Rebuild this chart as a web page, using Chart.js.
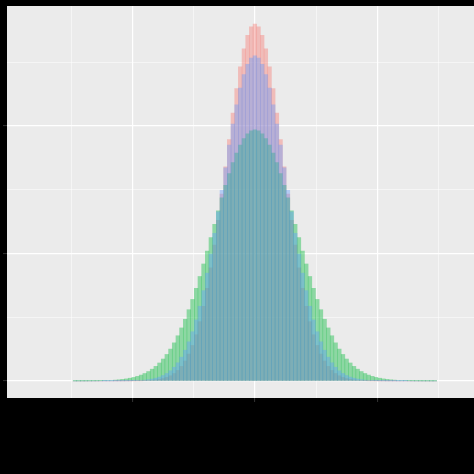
<!DOCTYPE html>
<html><head><script src="https://cdn.jsdelivr.net/npm/chart.js@4"></script>
<style>html,body{margin:0;background:#000}#w{width:474px;height:474px}</style></head>
<body><div id="w"><canvas id="c"></canvas></div>
<script>
const binWidth = 0.12;
const binCount = 99;
const redHalf = [56000,55550,54240,52120,49290,45870,42030,37890,33600,29340,25210,21330,17750,14540,11720,9300,7260,5580,4220,3140,2300,1660,1180,823,566,383,255,167,108,68,43,26,16,9,5,3,2,1,1,0,0,0,0,0,0,0,0,0,0,0];
const blueHalf = [51000,50670,49690,48090,45940,43310,40300,37030,33440,29920,26550,23180,19910,16920,14180,11730,9580,7730,6150,4830,3740,2860,2160,1610,1185,860,617,437,305,210,143,96,63,42,27,17,11,7,4,2,1,1,0,0,0,0,0,0,0,0];
const greenHalf = [39400,39250,38790,38040,37020,35750,34250,32560,30700,28730,26690,24590,22490,20400,18360,16400,14540,12800,11190,9690,8330,7100,5990,5010,4170,3450,2830,2300,1860,1490,1180,935,730,567,439,335,254,191,143,106,78,57,41,29,21,15,10,7,5,3];
const seriesNames = ['A','B','C'];

function full(h){ return h.slice(1).reverse().concat(h); }
function pts(h){ const v = full(h); return v.map((y,i)=>({x:(i-(binCount-1)/2)*binWidth, y})); }

const bg = {id:'bg', beforeDraw(ch){const c=ch.ctx,a=ch.chartArea;c.save();c.fillStyle='#000';c.fillRect(0,0,ch.width,ch.height);c.fillStyle='#EBEBEB';c.fillRect(a.left,a.top,a.right-a.left,a.bottom-a.top);c.restore();}};

new Chart(document.getElementById('c'),{
 type:'bar',
 data:{datasets:[
  {label:seriesNames[0],data:pts(redHalf),backgroundColor:'rgba(248,118,109,0.4)',order:3},
  {label:seriesNames[1],data:pts(greenHalf),backgroundColor:'rgba(0,186,56,0.4)',order:2},
  {label:seriesNames[2],data:pts(blueHalf),backgroundColor:'rgba(97,156,255,0.4)',order:1}
 ]},
 options:{
  animation:false,responsive:true,maintainAspectRatio:false,
  layout:{padding:{top:6,right:0,left:0,bottom:0}},
  plugins:{legend:{display:false},tooltip:{enabled:false}},
  datasets:{bar:{barPercentage:1,categoryPercentage:1,grouped:false,borderWidth:0,inflateAmount:0.3}},
  scales:{
   x:{type:'linear',min:-8.1,max:7.16,offset:false,
      afterBuildTicks(s){s.ticks=[-6,-4,-2,0,2,4,6].map(v=>({value:v}));},
      afterFit(s){s.height=76;},
      ticks:{display:false},border:{display:false},
      grid:{offset:false,color:'#fff',lineWidth:c=>c.tick&&c.tick.value%4===0?1.2:0.5,tickLength:4,
        tickColor:c=>c.tick&&c.tick.value%4===0?'#333':'rgba(0,0,0,0)',tickWidth:1}},
   y:{min:-2667,max:58824,
      afterBuildTicks(s){s.ticks=[0,10000,20000,30000,40000,50000].map(v=>({value:v}));},
      afterFit(s){s.width=7;},
      ticks:{display:false},border:{display:false},
      grid:{color:'#fff',lineWidth:c=>c.tick&&c.tick.value%20000===0?1.2:0.5,tickLength:4,
        tickColor:c=>c.tick&&c.tick.value%20000===0?'#333':'rgba(0,0,0,0)',tickWidth:1}}
  }
 },
 plugins:[bg]
});
</script></body></html>
